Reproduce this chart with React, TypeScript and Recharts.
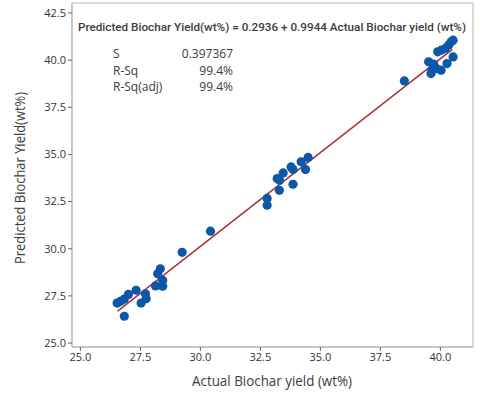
import React from 'react'
import { ScatterChart, Scatter, XAxis, YAxis, ReferenceLine, ReferenceArea } from 'recharts'

// values
const actualYield = [
  26.53, 26.67, 26.83, 27.0, 26.83, 27.32, 27.53, 27.74, 27.71, 28.22, 28.33, 28.13, 28.43, 28.43,
  29.24, 30.42,
  32.78, 32.78, 33.2, 33.45, 33.3, 33.29, 33.78, 33.86, 33.86, 34.2, 34.38, 34.49,
  38.5, 39.51, 39.61, 39.65, 39.83, 40.03, 39.89, 40.04, 40.21, 40.35, 40.45, 40.53, 40.53, 40.28, 39.72
]
const predictedYield = [
  27.12, 27.21, 27.33, 27.58, 26.42, 27.8, 27.12, 27.35, 27.61, 28.67, 28.94, 28.03, 28.33, 28.01,
  29.81, 30.93,
  32.67, 32.31, 33.72, 34.02, 33.63, 33.1, 34.34, 34.2, 33.42, 34.61, 34.2, 34.84,
  38.9, 39.91, 39.29, 39.47, 39.56, 39.47, 40.44, 40.53, 40.62, 40.8, 40.97, 41.06, 40.17, 39.82, 39.79
]
const xTicks = [25, 27.5, 30, 32.5, 35, 37.5, 40]
const yTicks = [25, 27.5, 30, 32.5, 35, 37.5, 40, 42.5]
const xDomain = [24.65, 41.36]
const yDomain = [24.79, 43.03]

// fitted line from the equation in the title
const intercept = 0.2936
const slope = 0.9944
const fitFrom = 26.55
const fitTo = 40.5

const statLabels = ['S', 'R-Sq', 'R-Sq(adj)']
const statValues = ['0.397367', '99.4%', '99.4%']

const points = actualYield.map((a, i) => ({ actual: a, predicted: predictedYield[i] }))

const FONT = '"Open Sans", "Noto Sans", sans-serif'
const TXT = '#3c3c3c'

export default function App() {
  return (
    <div style={{ position: 'absolute', left: 0, top: 0, background: '#fff' }}>
      <ScatterChart width={480} height={393} margin={{ top: 3, right: 7, bottom: 0, left: 0 }}>
        <XAxis
          type="number"
          dataKey="actual"
          domain={xDomain}
          ticks={xTicks}
          allowDataOverflow
          tickFormatter={(v: number) => v.toFixed(1)}
          tickSize={4}
          tickMargin={2}
          height={46}
          axisLine={{ stroke: '#b5b5b5' }}
          tickLine={{ stroke: '#666' }}
          tick={{ fill: '#333', fontSize: 11, fontFamily: FONT }}
        />
        <YAxis
          type="number"
          dataKey="predicted"
          domain={yDomain}
          ticks={yTicks}
          allowDataOverflow
          tickFormatter={(v: number) => v.toFixed(1)}
          tickSize={4}
          tickMargin={2}
          width={72}
          axisLine={{ stroke: '#b5b5b5' }}
          tickLine={{ stroke: '#666' }}
          tick={{ fill: '#333', fontSize: 11, fontFamily: FONT }}
        />
        <ReferenceArea
          x1={xDomain[0]}
          x2={xDomain[1]}
          y1={yDomain[0]}
          y2={yDomain[1]}
          fill="none"
          stroke="#b5b5b5"
          strokeWidth={1}
        />
        <ReferenceLine
          segment={[
            { x: fitFrom, y: intercept + slope * fitFrom },
            { x: fitTo, y: intercept + slope * fitTo }
          ]}
          stroke="#a83232"
          strokeWidth={1.5}
        />
        <Scatter data={points} fill="#0c57a7" isAnimationActive={false} shape={(p: any) => (
          <circle cx={p.cx} cy={p.cy} r={4.6} fill="#0c57a7" />
        )} />

        <text x={78} y={31} fill={TXT} fontFamily="Roboto, sans-serif" fontSize={11} fontWeight={500}
          textLength={388} lengthAdjust="spacingAndGlyphs">
          Predicted Biochar Yield(wt%) = 0.2936 + 0.9944 Actual Biochar yield (wt%)
        </text>
        {statLabels.map((s, i) => (
          <text key={s} x={113} y={58 + i * 16.5} fill={TXT} fontFamily={FONT} fontSize={12}>{s}</text>
        ))}
        {statValues.map((s, i) => (
          <text key={i} x={233} y={58 + i * 16.5} fill={TXT} fontFamily={FONT} fontSize={12} textAnchor="end">{s}</text>
        ))}
        <text x={272} y={386} fill={TXT} fontFamily={FONT} fontSize={15} textAnchor="middle"
          textLength={160} lengthAdjust="spacingAndGlyphs">
          Actual Biochar yield (wt%)
        </text>
        <text x={0} y={0} fill={TXT} fontFamily={FONT} fontSize={15} textAnchor="middle"
          transform="translate(25,178) rotate(-90)" textLength={172} lengthAdjust="spacingAndGlyphs">
          Predicted Biochar Yield(wt%)
        </text>
      </ScatterChart>
    </div>
  )
}
